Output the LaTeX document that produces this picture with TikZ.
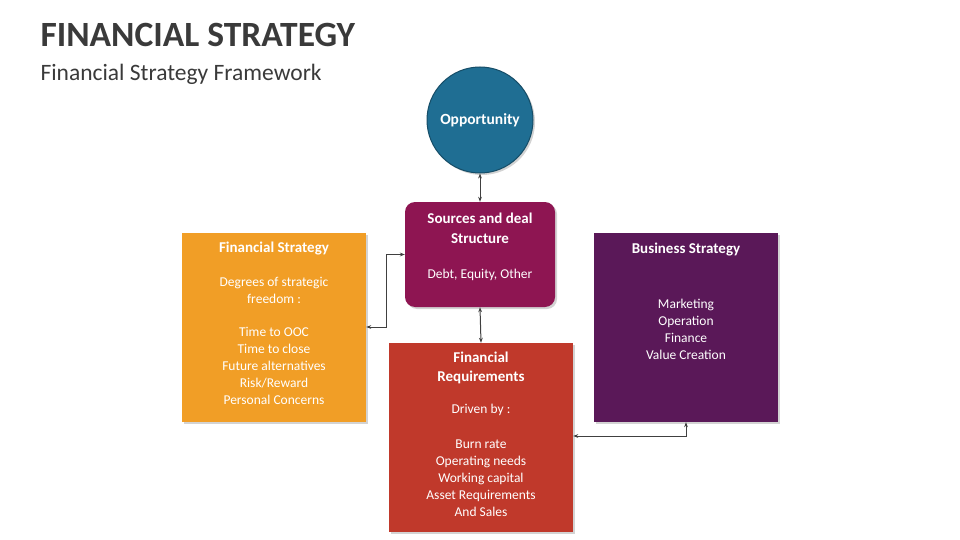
\documentclass[tikz,border=0pt]{standalone}
\usepackage{fontspec}
\setmainfont{Carlito}
\usetikzlibrary{shadows,arrows.meta}
\definecolor{ttl}{HTML}{3A3A3A}
\definecolor{opp}{HTML}{1F6E93}
\definecolor{src}{HTML}{8E1552}
\definecolor{fst}{HTML}{F19E26}
\definecolor{bst}{HTML}{5A1858}
\definecolor{frq}{HTML}{C0392B}
\begin{document}
\begin{tikzpicture}[x=1pt,y=-1pt,
  box/.style={draw=none,drop shadow={opacity=0.35,shadow xshift=2pt,shadow yshift=-2pt},inner sep=0pt},
  txt/.style={text=white,align=center,inner sep=0pt,font=\fontsize{13.5}{17}\selectfont},
  conn/.style={draw=black!75,line width=1pt,{Stealth[length=5pt]}-{Stealth[length=5pt]}}]
\useasboundingbox (0,0) rectangle (960,540);
\node[anchor=west,text=ttl,font=\fontsize{35.5}{38}\bfseries\selectfont] (title) at (37,35) {FINANCIAL STRATEGY};
\node[anchor=west,text=ttl,font=\fontsize{23.5}{26}\selectfont] (sub) at (37,74) {Financial Strategy Framework};
\node[box,circle,fill=opp,draw=opp!70!black,line width=1pt,minimum size=106pt,txt,font=\fontsize{15.5}{17}\bfseries\selectfont] (opp) at (480,120) {\raisebox{-2pt}{Opportunity}};
\node[box,rounded corners=10pt,fill=src,minimum width=150pt,minimum height=105pt] (src) at (480,254.5) {};
\node[txt,anchor=north] (srct) at (480,213) {{\bfseries\fontsize{15}{17}\selectfont Sources and deal}\\[3pt]{\bfseries\fontsize{15}{17}\selectfont Structure}\\[18pt]Debt, Equity, Other};
\node[box,fill=fst,minimum width=184pt,minimum height=189pt] (fs) at (274,327.5) {};
\node[txt,anchor=north] (fst) at (274,242) {{\bfseries\fontsize{15}{17}\selectfont Financial Strategy}\\[17pt]Degrees of strategic\\freedom :\\[16pt]Time to OOC\\Time to close\\Future alternatives\\Risk/Reward\\Personal Concerns};
\node[box,fill=bst,minimum width=184pt,minimum height=189pt] (bs) at (686,327.5) {};
\node[txt,anchor=north] (bst) at (686,243) {{\bfseries\fontsize{15}{17}\selectfont Business Strategy}\\[38pt]Marketing\\Operation\\Finance\\Value Creation};
\node[box,fill=frq,minimum width=184pt,minimum height=189pt] (fr) at (481,437.5) {};
\node[txt,anchor=north] (frt) at (481,352) {{\bfseries\fontsize{15}{17}\selectfont Financial}\\[2pt]{\bfseries\fontsize{15}{17}\selectfont Requirements}\\[15pt]Driven by :\\[18pt]Burn rate\\Operating needs\\Working capital\\Asset Requirements\\And Sales};
\draw[conn] (opp.south) -- (src.north);
\draw[conn] (src.south) -- (fr.north);
\draw[conn] (src.west) -- (386,254.5) |- (fs.east |- 0,327);
\draw[conn] (fr.east |- 0,436) -| (bs.south);
\end{tikzpicture}
\end{document}
